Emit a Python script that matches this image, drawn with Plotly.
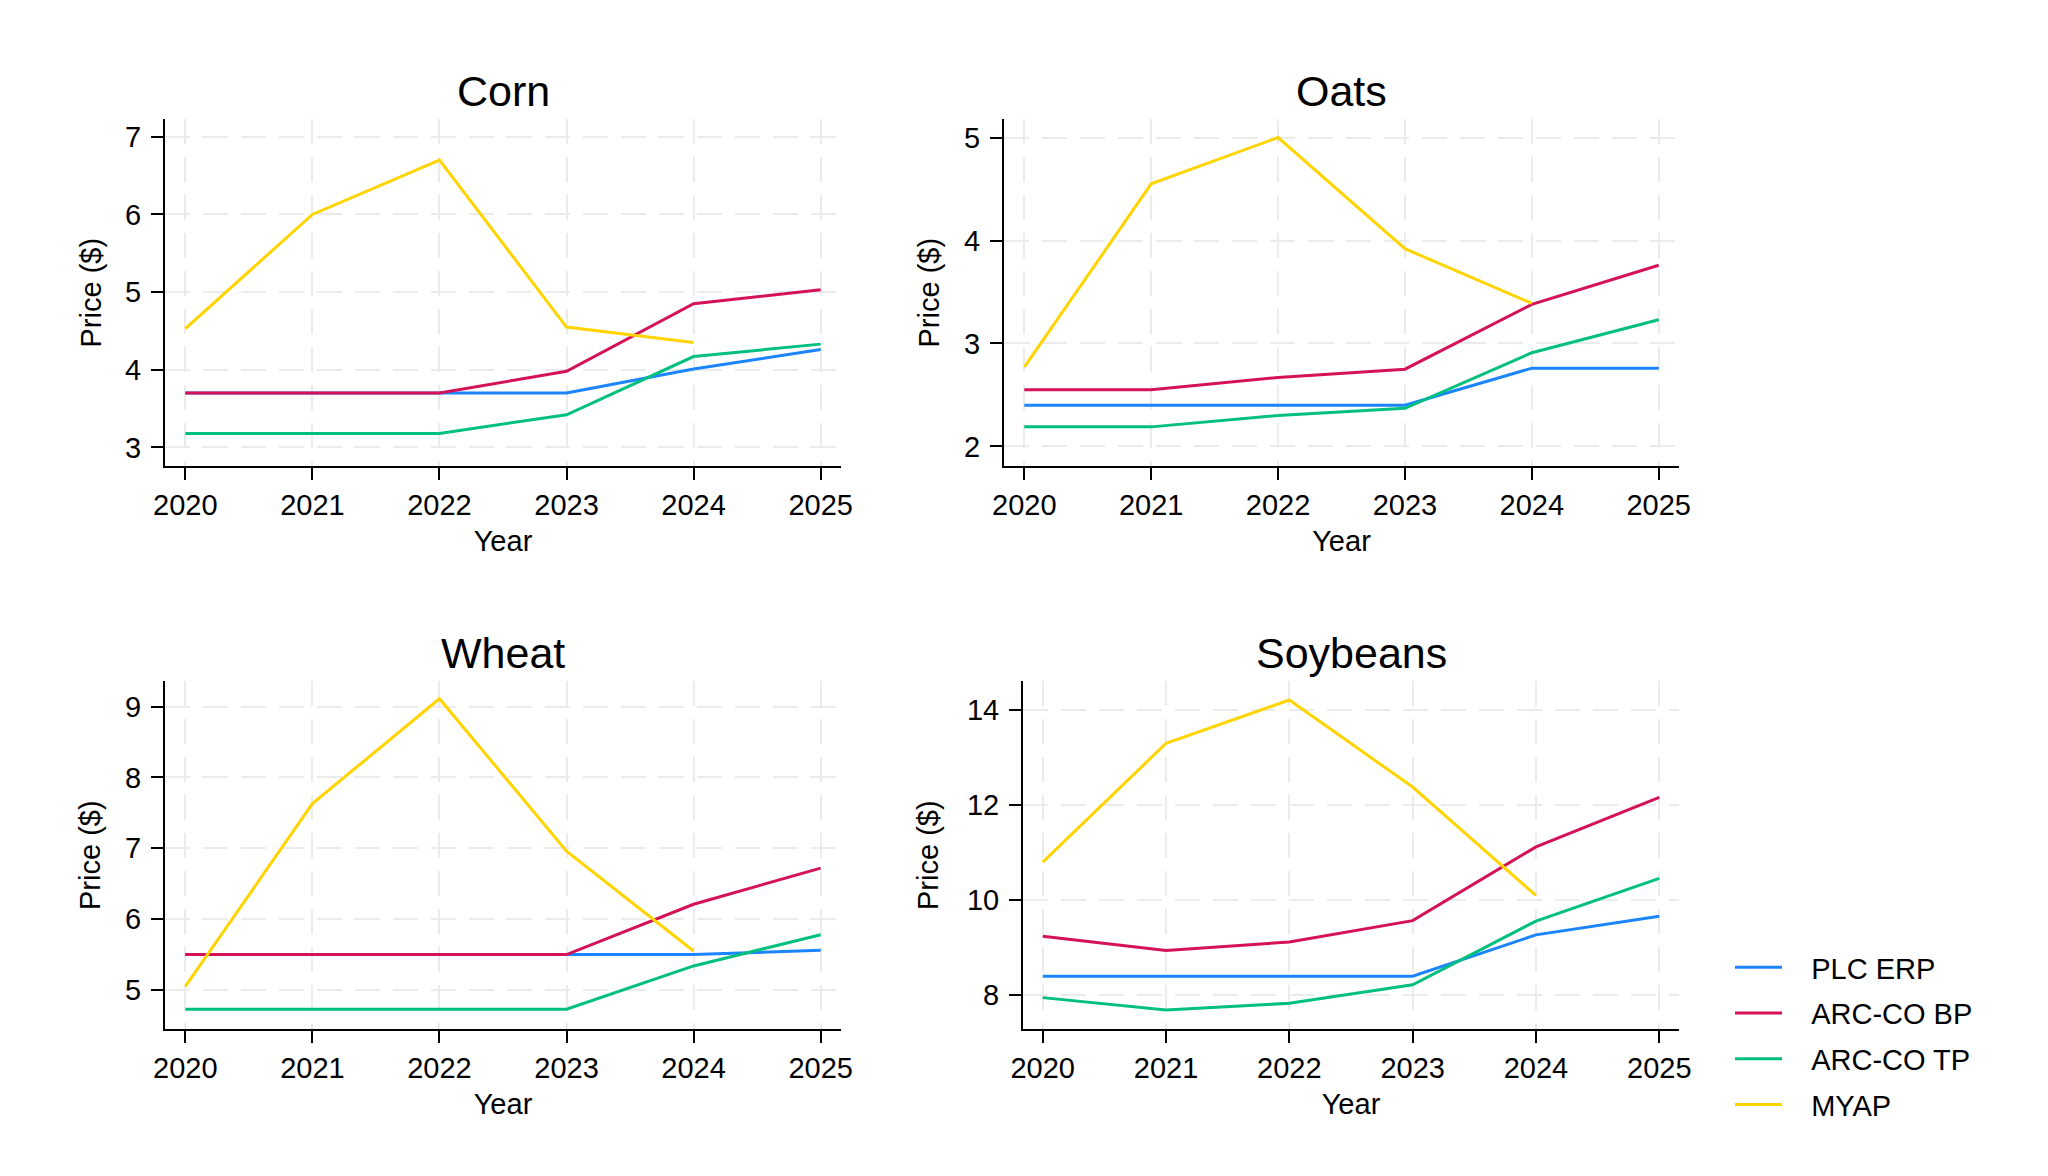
import plotly.graph_objects as go

years = [2020, 2021, 2022, 2023, 2024, 2025]
series_names = ["PLC ERP", "ARC-CO BP", "ARC-CO TP", "MYAP"]
series_colors = ["#1a85ff", "#d41159", "#00bf7f", "#ffd400"]

corn_plc = [3.70, 3.70, 3.70, 3.70, 4.01, 4.26]
corn_bp = [3.70, 3.70, 3.70, 3.98, 4.85, 5.03]
corn_tp = [3.18, 3.18, 3.18, 3.42, 4.17, 4.33]
corn_myap = [4.53, 6.00, 6.70, 4.55, 4.35, None]

oats_plc = [2.40, 2.40, 2.40, 2.40, 2.76, 2.76]
oats_bp = [2.55, 2.55, 2.67, 2.75, 3.38, 3.76]
oats_tp = [2.19, 2.19, 2.30, 2.37, 2.91, 3.23]
oats_myap = [2.77, 4.55, 5.00, 3.92, 3.39, None]

wheat_plc = [5.50, 5.50, 5.50, 5.50, 5.50, 5.56]
wheat_bp = [5.50, 5.50, 5.50, 5.50, 6.21, 6.72]
wheat_tp = [4.73, 4.73, 4.73, 4.73, 5.34, 5.78]
wheat_myap = [5.05, 7.63, 9.11, 6.96, 5.55, None]

soy_plc = [8.40, 8.40, 8.40, 8.40, 9.27, 9.66]
soy_bp = [9.24, 8.94, 9.12, 9.57, 11.12, 12.16]
soy_tp = [7.95, 7.69, 7.83, 8.22, 9.56, 10.46]
soy_myap = [10.80, 13.30, 14.21, 12.38, 10.10, None]

crops = ["Corn", "Oats", "Wheat", "Soybeans"]
crop_data = {
    "Corn": [corn_plc, corn_bp, corn_tp, corn_myap],
    "Oats": [oats_plc, oats_bp, oats_tp, oats_myap],
    "Wheat": [wheat_plc, wheat_bp, wheat_tp, wheat_myap],
    "Soybeans": [soy_plc, soy_bp, soy_tp, soy_myap],
}
y_ticks = {
    "Corn": [3, 4, 5, 6, 7],
    "Oats": [2, 3, 4, 5],
    "Wheat": [5, 6, 7, 8, 9],
    "Soybeans": [8, 10, 12, 14],
}
y_ranges = {
    "Corn": [2.76, 7.23],
    "Oats": [1.81, 5.18],
    "Wheat": [4.45, 9.36],
    "Soybeans": [7.29, 14.61],
}

W, H = 2048, 1176
# panel pixel boxes: (left, right, top, bottom)
boxes = {
    "Corn": (157, 833, 111, 458),
    "Oats": (996, 1671, 111, 458),
    "Wheat": (157, 833, 673, 1021),
    "Soybeans": (1015, 1671, 673, 1021),
}
ytitle_x = {"Corn": 82, "Oats": 920, "Wheat": 82, "Soybeans": 920}

FONT = "Liberation Sans, Arial, sans-serif"
NB = "\u00a0"
fig = go.Figure()
layout = dict(
    template="none",
    width=W, height=H,
    margin=dict(l=0, r=0, t=0, b=0, autoexpand=False),
    paper_bgcolor="white", plot_bgcolor="white",
    font=dict(family=FONT, color="black", size=29),
    showlegend=True,
    legend=dict(
        x=1722 / W, y=1 - 934 / H, xanchor="left", yanchor="top",
        font=dict(size=29, family=FONT, color="black"),
        tracegroupgap=5, itemwidth=47, bgcolor="rgba(0,0,0,0)",
        borderwidth=0, traceorder="grouped",
    ),
    annotations=[],
)

for i, crop in enumerate(crops):
    n = i + 1
    xa = "xaxis" if n == 1 else f"xaxis{n}"
    ya = "yaxis" if n == 1 else f"yaxis{n}"
    xref = "x" if n == 1 else f"x{n}"
    yref = "y" if n == 1 else f"y{n}"
    l, r, t, b = boxes[crop]
    common = dict(
        showline=True, linecolor="black", linewidth=2,
        ticks="outside", ticklen=12, tickwidth=2, tickcolor="black",
        showgrid=True, gridcolor="#ebebeb", gridwidth=2, griddash="25px,13px",
        zeroline=False, tickfont=dict(size=29, family=FONT, color="black"),
        mirror=False, automargin=False,
    )
    layout[xa] = dict(
        common, domain=[l / W, r / W], anchor=yref,
        range=[2019.84, 2025.16], tickmode="array", tickvals=years,
        ticktext=[str(y) for y in years],
        title=dict(text="Year", font=dict(size=29, family=FONT), standoff=11),
    )
    layout[ya] = dict(
        common, domain=[1 - b / H, 1 - t / H], anchor=xref,
        range=y_ranges[crop], tickmode="array", tickvals=y_ticks[crop],
        ticklabelstandoff=4,
    )
    layout["annotations"].append(dict(
        text=crop, xref="paper", yref="paper",
        x=(l + r) / 2 / W, y=1 - (t - 28) / H, xanchor="center", yanchor="middle",
        showarrow=False, font=dict(size=43, family=FONT, color="black"),
    ))
    layout["annotations"].append(dict(
        text="Price ($)", xref="paper", yref="paper",
        x=ytitle_x[crop] / W, y=1 - (t + b) / 2 / H, xanchor="center", yanchor="middle",
        textangle=-90, showarrow=False, font=dict(size=29, family=FONT, color="black"),
    ))
    for s, (name, color) in enumerate(zip(series_names, series_colors)):
        fig.add_trace(go.Scatter(
            x=years, y=crop_data[crop][s], mode="lines", name=NB * 3 + name,
            line=dict(color=color, width=3),
            xaxis=xref, yaxis=yref, showlegend=(i == 0),
            legendgroup=name, connectgaps=False,
        ))

fig.update_layout(**layout)
fig.write_html("out.html")
